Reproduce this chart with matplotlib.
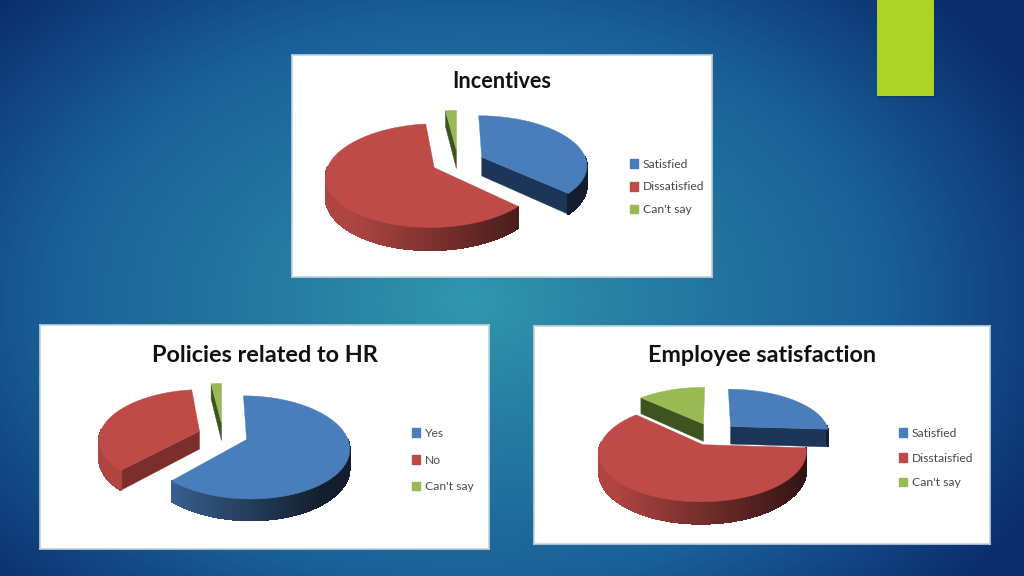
#!/usr/bin/env python3
"""Three exploded 3D-look pie charts on a blue slide background."""

import numpy as np
import matplotlib
matplotlib.use('Agg')
import matplotlib.pyplot as plt
from matplotlib.colors import LinearSegmentedColormap, to_rgb
from matplotlib.patches import Patch, Rectangle

plt.rcParams['font.family'] = ['Lato', 'DejaVu Sans']

W, H = 1024, 576

# chart data, percent
incentive_labels = ['Satisfied', 'Dissatisfied', "Can't say"]
incentive_values = [37, 61, 2]
policy_labels = ['Yes', 'No', "Can't say"]
policy_values = [62, 36, 2]
employee_labels = ['Satisfied', 'Disstaisfied', "Can't say"]
employee_values = [26, 61, 13]

slice_colors = ['#4a7ebb', '#be4b48', '#98b954']
cut_colors = ['#1d3657', '#7c2e2c', '#3f5220']

PERSPECTIVE = 0.15
EXPLODE = 0.25


def project(u, v, cx, cy, rx, ry):
    """Ground plane point to pixels, v points away from the viewer."""
    s = 1 / (1 + PERSPECTIVE * v)
    return cx + rx * u * s, cy - ry * v * s, s


def draw_slice(ax, start, end, color, cut_color, cx, cy, rx, ry, depth):
    mid = (start + end) / 2
    ex, ey = EXPLODE * np.sin(mid), EXPLODE * np.cos(mid)
    t = np.linspace(start, end, 120)
    x, y, s = project(ex + np.sin(t), ey + np.cos(t), cx, cy, rx, ry)
    px, py, ps = project(ex, ey, cx, cy, rx, ry)
    d, pd = depth * s, depth * ps

    # only the cut faces turned toward the viewer
    if np.sin(start) < -1e-6:
        ax.fill([px, x[0], x[0], px], [py, y[0], y[0] + d[0], py + pd],
                color=cut_color, lw=0.3, zorder=2)
    if np.sin(end) > 1e-6:
        ax.fill([px, x[-1], x[-1], px], [py, y[-1], y[-1] + d[-1], py + pd],
                color=cut_color, lw=0.3, zorder=2)

    # outer wall on the front half, darker toward the right
    base = np.array(to_rgb(color))
    for i in range(len(t) - 1):
        if np.cos(t[i]) > 0.02:
            continue
        frac = np.clip((x[i] - (cx - rx)) / (2 * rx), 0, 1)
        shade = base * (0.92 - 0.68 * frac)
        ax.fill([x[i], x[i + 1], x[i + 1], x[i]],
                [y[i], y[i + 1], y[i + 1] + d[i + 1], y[i] + d[i]],
                color=shade, lw=0.5, antialiased=False, zorder=3)

    ax.fill(np.r_[px, x], np.r_[py, y], color=color, lw=0.3, zorder=4)


def draw_panel(fig, box, title, title_size, title_y, labels, values, pie, legend_xy, spacing):
    x0, y0, x1, y1 = box
    ax = fig.add_axes([x0 / W, 1 - y1 / H, (x1 - x0) / W, (y1 - y0) / H])
    ax.set_xlim(x0, x1)
    ax.set_ylim(y1, y0)
    ax.set_xticks([])
    ax.set_yticks([])
    ax.set_facecolor('white')
    for sp in ax.spines.values():
        sp.set_color('#c4d2dc')
        sp.set_linewidth(1.2)

    edges = np.r_[0, np.cumsum(values)] / np.sum(values) * 2 * np.pi
    # thin slice goes first, it sits at the back
    for i in np.argsort(values):
        draw_slice(ax, edges[i], edges[i + 1], slice_colors[i], cut_colors[i], *pie)

    ax.text((x0 + x1) / 2, title_y, title, fontsize=title_size,
            fontweight='bold', ha='center', va='center', color='#111111')

    handles = [Patch(color=c, label=l) for c, l in zip(slice_colors, labels)]
    ax.legend(handles=handles, loc='center left', bbox_to_anchor=legend_xy,
              bbox_transform=ax.transData, frameon=False, fontsize=8.7,
              handlelength=0.7, handleheight=0.7, handletextpad=0.35,
              labelspacing=spacing, labelcolor='#484848', borderpad=0, borderaxespad=0)


def main():
    fig = plt.figure(figsize=(W / 100, H / 100), dpi=100)

    # slide background, radial glow in the lower middle
    bg = fig.add_axes([0, 0, 1, 1])
    yy, xx = np.mgrid[0:H, 0:W]
    dist = np.sqrt(((xx - 470) / 640) ** 2 + ((yy - 300) / 440) ** 2)
    cmap = LinearSegmentedColormap.from_list(
        'slide', [(0, '#3097ad'), (0.25, '#277fa3'), (0.65, '#1a6098'), (1, '#0b2d6e')])
    bg.imshow(np.clip(dist, 0, 1), cmap=cmap, vmin=0, vmax=1, extent=[0, W, H, 0], aspect='auto')
    bg.set_xlim(0, W)
    bg.set_ylim(H, 0)
    bg.axis('off')
    bg.add_patch(Rectangle((878, 0), 57, 98, color='#0a2a55', alpha=0.35, lw=0))
    bg.add_patch(Rectangle((877, 0), 57, 96, color='#add329', lw=0))

    # pie layout is cx, cy, rx, ry, depth in slide pixels
    draw_panel(fig, (292, 55, 712, 277), 'Incentives', 15.6, 82, incentive_labels,
               incentive_values, (458, 162, 105, 49, 19), (630, 187), 0.98)
    draw_panel(fig, (40, 325, 489, 549), 'Policies related to HR', 16.9, 355, policy_labels,
               policy_values, (223, 435, 100, 49, 18), (412, 460), 1.3)
    draw_panel(fig, (534, 326, 990, 544), 'Employee satisfaction', 16.8, 355, employee_labels,
               employee_values, (713, 434, 99, 45, 18), (899, 458), 1.15)

    fig.savefig('out.png', dpi=100)
    plt.close(fig)


if __name__ == '__main__':
    main()
